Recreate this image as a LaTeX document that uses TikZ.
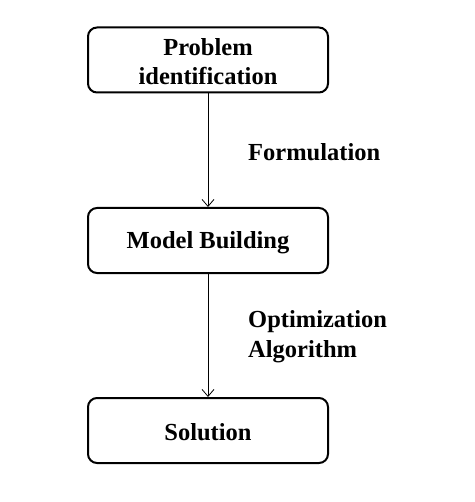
\documentclass[tikz,border=0pt]{standalone}
\usepackage{fontspec}
\setmainfont{Liberation Serif}
\usetikzlibrary{arrows.meta}
\begin{document}
\begin{tikzpicture}[x=1pt,y=-1pt,
  stepbox/.style={draw=black, line width=2pt, rounded corners=9pt, minimum width=240pt, minimum height=65pt, inner sep=0pt, align=center, font=\fontsize{24.5}{29}\selectfont\bfseries},
  lbl/.style={anchor=west, align=left, inner sep=0pt, font=\fontsize{24.5}{30}\selectfont\bfseries},
  conn/.style={draw=black, line width=0.8pt, -{Straight Barb[length=7pt,width=12pt,line width=0.8pt]}}]
\useasboundingbox[fill=white] (0,0) rectangle (474,502);
\node[stepbox] (p) at (208,60) {};
\node[stepbox] (m) at (208,240.5) {};
\node[stepbox] (s) at (208,430.5) {};
\node[align=center, inner sep=0pt, font=\fontsize{24.5}{29}\selectfont\bfseries] (pt) at (208,61.5) {Problem\\identification};
\node[inner sep=0pt, font=\fontsize{24.5}{29}\selectfont\bfseries] (mt) at (208,243) {Model Building};
\node[inner sep=0pt, font=\fontsize{24.5}{29}\selectfont\bfseries] (st) at (208,432) {Solution};
\draw[conn] (p) -- (m);
\draw[conn] (m) -- (s);
\node[lbl] (f) at (248,152) {Formulation};
\node[lbl] (o) at (248,337) {Optimization\\Algorithm};
\end{tikzpicture}
\end{document}
